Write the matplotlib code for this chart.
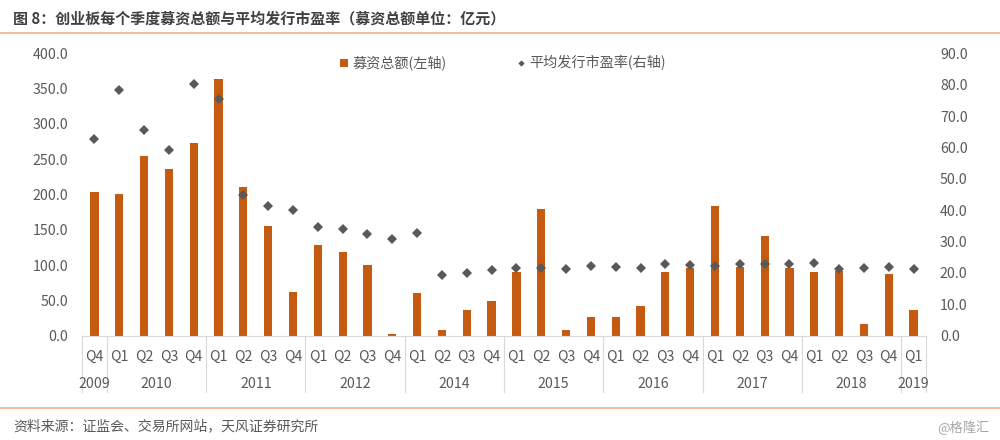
import matplotlib
matplotlib.use("Agg")
import matplotlib.pyplot as plt
from matplotlib.lines import Line2D
import numpy as np

plt.rcParams['font.family'] = ['Noto Sans CJK SC', 'DejaVu Sans']

quarters = ["Q4",
            "Q1", "Q2", "Q3", "Q4",
            "Q1", "Q2", "Q3", "Q4",
            "Q1", "Q2", "Q3", "Q4",
            "Q1", "Q2", "Q3", "Q4",
            "Q1", "Q2", "Q3", "Q4",
            "Q1", "Q2", "Q3", "Q4",
            "Q1", "Q2", "Q3", "Q4",
            "Q1", "Q2", "Q3", "Q4",
            "Q1"]
years = ["2009", "2010", "2011", "2012", "2014", "2015", "2016", "2017", "2018", "2019"]
year_counts = [1, 4, 4, 4, 4, 4, 4, 4, 4, 1]

funds = [204, 201, 255, 236, 273,
         363, 211, 155, 62,
         129, 118, 100, 2.5,
         60, 8, 37, 49.5,
         90, 180, 8, 26.5,
         26.5, 42.5, 90, 96.5,
         183, 97, 141, 96.5,
         90, 91.5, 16.5, 87,
         36]
pe = [62.8, 78.3, 65.5, 59.3, 80.2,
      75.3, 44.8, 41.3, 40.1,
      34.7, 34.1, 32.3, 30.9,
      32.6, 19.3, 19.9, 20.9,
      21.6, 21.6, 21.3, 22.2,
      21.8, 21.5, 22.8, 22.5,
      22.2, 22.8, 22.7, 22.8,
      23.3, 21.4, 21.7, 21.9,
      21.2]
labels = ['募资总额(左轴)', '平均发行市盈率(右轴)']

bar_color = '#C55A11'
dot_color = '#595959'
text_color = '#595959'
line_color = '#F4B183'
grid_color = '#D9D9D9'
fs = 10.2

W, H = 1000, 440
fig = plt.figure(figsize=(10, 4.4), dpi=100)
ax = fig.add_axes([0.082, 0.237, 0.844, 0.642])
ax2 = ax.twinx()

x = np.arange(len(funds))
ax.bar(x, funds, width=0.33, color=bar_color, zorder=2)
ax2.plot(x, pe, linestyle='none', marker='D', markersize=4.7, markeredgewidth=0,
         color=dot_color, zorder=3)

ax.set_xlim(-0.5, len(funds) - 0.5)
ax.set_ylim(0, 400)
ax2.set_ylim(0, 90)
ax.set_yticks(np.arange(0, 401, 50))
ax.set_yticklabels([f"{v:.1f}" for v in np.arange(0, 401, 50)])
ax2.set_yticks(np.arange(0, 91, 10))
ax2.set_yticklabels([f"{v:.1f}" for v in np.arange(0, 91, 10)])

for a in (ax, ax2):
    for s in a.spines.values():
        s.set_visible(False)
ax.spines['bottom'].set_visible(True)
ax.spines['bottom'].set_color(grid_color)
ax.tick_params(axis='y', length=0, labelsize=fs, labelcolor=text_color, pad=10)
ax2.tick_params(axis='y', length=0, labelsize=fs, labelcolor=text_color, pad=10)
ax.set_xticks([])

trans = ax.get_xaxis_transform()
for i, q in enumerate(quarters):
    ax.text(i, -0.075, q, transform=trans, ha='center', va='center',
            fontsize=fs, color=text_color)

bounds = [-0.5]
start = 0
for y, c in zip(years, year_counts):
    center = start + (c - 1) / 2
    ax.text(center, -0.172, y, transform=trans, ha='center', va='center',
            fontsize=fs, color=text_color)
    start += c
    bounds.append(start - 0.5)
for b in bounds:
    ax.plot([b, b], [0, -0.2], transform=trans, color=grid_color, lw=0.8,
            clip_on=False, zorder=1)

# legend (placed manually)
ly = 1 - 63 / H
fig.add_artist(Line2D([344 / W], [ly], linestyle='none', marker='s', markersize=5.2,
                      markeredgewidth=0, color=bar_color))
fig.text(353 / W, ly, labels[0], fontsize=fs, color=text_color, ha='left', va='center')
fig.add_artist(Line2D([520.5 / W], [ly], linestyle='none', marker='D', markersize=3.2,
                      markeredgewidth=0, color=dot_color))
fig.text(529 / W, ly, labels[1], fontsize=fs, color=text_color, ha='left', va='center')

# title and decorations
fig.text(0.013, 0.958, "图 8：创业板每个季度募资总额与平均发行市盈率（募资总额单位：亿元）",
         fontsize=10.8, fontweight='bold', color='#404040', ha='left', va='center')
fig.add_artist(Line2D([0.0, 1.0], [1 - 33 / H, 1 - 33 / H], color=line_color, lw=1.2))
fig.add_artist(Line2D([0.0, 1.0], [1 - 408 / H, 1 - 408 / H], color=line_color, lw=1.2))
fig.text(0.013, 1 - 426 / H, "资料来源：证监会、交易所网站，天风证券研究所",
         fontsize=10, color=text_color, ha='left', va='center')
fig.text(0.99, 1 - 428 / H, "@格隆汇", fontsize=9.5, color='#A6A6A6',
         ha='right', va='center')

fig.savefig('out.png', dpi=100)
